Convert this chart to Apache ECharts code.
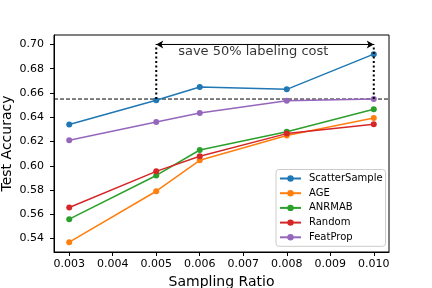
<!DOCTYPE html>
<html>
<head>
<meta charset="utf-8">
<script src="https://cdn.jsdelivr.net/npm/echarts@6/dist/echarts.min.js"></script>
<style>html,body{margin:0;padding:0;background:#fff}#c{width:432px;height:288px}</style>
</head>
<body>
<div id="c"></div>
<script>
const ratios = [0.003, 0.005, 0.006, 0.008, 0.010];
const scatterSample = [0.634, 0.654, 0.665, 0.663, 0.692];
const age = [0.537, 0.579, 0.6045, 0.625, 0.6394];
const anrmab = [0.556, 0.592, 0.613, 0.628, 0.6466];
const randomSel = [0.5656, 0.5954, 0.6078, 0.6265, 0.6342];
const featProp = [0.621, 0.636, 0.6435, 0.6535, 0.655];
const seriesNames = ['ScatterSample', 'AGE', 'ANRMAB', 'Random', 'FeatProp'];
const seriesValues = [scatterSample, age, anrmab, randomSel, featProp];
const colors = ['#1f77b4', '#ff7f0e', '#2ca02c', '#d62728', '#9467bd'];
const xTicks = [0.003, 0.004, 0.005, 0.006, 0.007, 0.008, 0.009, 0.010];
const yTicks = [0.54, 0.56, 0.58, 0.60, 0.62, 0.64, 0.66, 0.68, 0.70];
const xRange = [0.00265, 0.01035];
const yRange = [0.5289, 0.7078];
const refLevel = 0.655;
const arrowLevel = 0.70;
const arrowFrom = 0.005;
const arrowTo = 0.010;
const annoText = 'save 50% labeling cost';
const annoPos = [0.00723, 0.6937];

const font = 'DejaVu Sans';
const chart = echarts.init(document.getElementById('c'), null, {renderer: 'canvas'});

const series = seriesNames.map((n, i) => ({
  name: n, type: 'line',
  data: ratios.map((x, j) => [x, seriesValues[i][j]]),
  color: colors[i],
  symbol: 'circle', symbolSize: 6, showSymbol: true,
  lineStyle: {width: 1.5, color: colors[i]},
  itemStyle: {color: colors[i]},
  z: 2 + i, animation: false
}));

series.push({
  name: 'ref', type: 'line', data: [[xRange[0], refLevel], [xRange[1], refLevel]],
  showSymbol: false, symbol: 'none', silent: true, animation: false, z: 1,
  lineStyle: {color: '#000', type: [4, 2], width: 1}
});
series.push({
  name: 'v1', type: 'line', data: [[arrowFrom, refLevel], [arrowFrom, arrowLevel]],
  showSymbol: false, symbol: 'none', silent: true, animation: false, z: 10,
  lineStyle: {color: '#000', type: [2, 2.5], width: 2}
});
series.push({
  name: 'v2', type: 'line', data: [[arrowTo, refLevel], [arrowTo, arrowLevel]],
  showSymbol: false, symbol: 'none', silent: true, animation: false, z: 10,
  lineStyle: {color: '#000', type: [2, 2.5], width: 2}
});
series.push({
  name: 'arrow', type: 'line', data: [[arrowFrom, arrowLevel], [arrowTo, arrowLevel]], silent: true, animation: false,
  showSymbol: false, symbol: 'none', z: 11,
  lineStyle: {color: '#000', width: 1},
  markLine: {
    silent: true, symbol: ['arrow', 'arrow'], symbolSize: [6, 7],
    lineStyle: {color: '#000', type: 'solid', width: 1},
    label: {show: false},
    data: [[{coord: [arrowFrom, arrowLevel]}, {coord: [arrowTo, arrowLevel]}]]
  }
});
series.push({
  name: 'anno', type: 'scatter', data: [annoPos], symbolSize: 0, silent: true, animation: false,
  label: {show: true, position: 'inside', formatter: annoText, color: '#000',
    fontFamily: font, fontSize: 13, align: 'center', verticalAlign: 'middle'}
});

chart.setOption({
  animation: false,
  backgroundColor: '#fff',
  grid: {left: 54, right: 43, top: 35, bottom: 36, outerBoundsMode: 'none', containLabel: false,
    show: true, borderColor: '#000', borderWidth: 1, backgroundColor: 'transparent'},
  xAxis: {
    type: 'value', min: xRange[0], max: xRange[1],
    name: 'Sampling Ratio', nameLocation: 'middle', nameGap: 22,
    nameTextStyle: {fontFamily: font, fontSize: 14, color: '#000'},
    axisLine: {show: true, onZero: false, lineStyle: {color: '#000', width: 1}},
    axisTick: {show: true, length: 4, lineStyle: {color: '#000'}, customValues: xTicks},
    axisLabel: {fontFamily: font, fontSize: 11, color: '#000', margin: 7,
      customValues: xTicks, formatter: v => v.toFixed(3)},
    splitLine: {show: false}
  },
  yAxis: {
    type: 'value', min: yRange[0], max: yRange[1],
    name: 'Test Accuracy', nameLocation: 'middle', nameGap: 40, nameMoveOverlap: false,
    nameTextStyle: {fontFamily: font, fontSize: 14, color: '#000'},
    axisLine: {show: true, onZero: false, lineStyle: {color: '#000', width: 1}},
    axisTick: {show: true, length: 4, lineStyle: {color: '#000'}, customValues: yTicks},
    axisLabel: {fontFamily: font, fontSize: 11, color: '#000', margin: 10,
      customValues: yTicks, formatter: v => v.toFixed(2)},
    splitLine: {show: false}
  },
  legend: {
    data: seriesNames, orient: 'vertical', left: 276, top: 169.5,
    padding: [4, 3, 4, 3], itemWidth: 21, itemHeight: 8, itemGap: 4.7,
    borderColor: '#ccc', borderWidth: 1, borderRadius: 3,
    backgroundColor: 'rgba(255,255,255,0.8)',
    textStyle: {fontFamily: font, fontSize: 10, lineHeight: 10, color: '#000', padding: [0, 0, 0, 3]}
  },
  series: series
});
</script>
</body>
</html>
